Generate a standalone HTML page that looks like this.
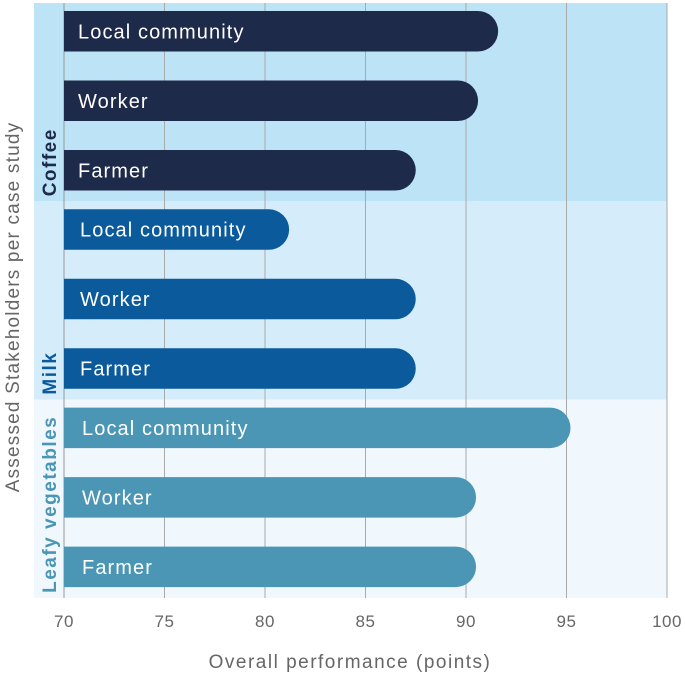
<!DOCTYPE html>
<html><head><meta charset="utf-8"><style>
body{margin:0;background:#fff;}
svg{display:block;font-family:"Liberation Sans",sans-serif;}
</style></head><body>
<svg id="chart" width="685" height="679"></svg>
<script>
const groups = ["Coffee","Milk","Leafy vegetables"];
const categories = ["Local community","Worker","Farmer"];
const coffeeValues = [91.6, 90.6, 87.5];
const milkValues = [81.2, 87.5, 87.5];
const leafyValues = [95.2, 90.5, 90.5];
const xTicks = [70,75,80,85,90,95,100];

const svg = document.getElementById('chart');
const NS = 'http://www.w3.org/2000/svg';
const x0 = 64, x1 = 667, vMin = 70, vMax = 100;
const xs = v => x0 + (v - vMin) / (vMax - vMin) * (x1 - x0);
const bandTop = 3, bandH = 198.3;
const bandColors = ["#bde3f7","#d5ecfa","#f0f8fd"];
const barColors = ["#1e2a4a","#0a5a9c","#4a96b4"];
const labelColors = ["#1e2a4a","#0a5a9c","#4a96b4"];
const allValues = [coffeeValues, milkValues, leafyValues];
function el(tag, attrs, parent){const e=document.createElementNS(NS,tag);for(const k in attrs)e.setAttribute(k,attrs[k]);(parent||svg).appendChild(e);return e;}

groups.forEach((g,gi)=>{
  const top = bandTop + gi*bandH;
  const b = el('rect',{x:34,y:top,width:x1-34,height:bandH,fill:bandColors[gi]});
  
  
});
xTicks.forEach(t=>{
  const l = el('line',{x1:xs(t),x2:xs(t),y1:3,y2:598,stroke:t===70?'#999':'#aaa','stroke-width':1});
  
  
  const tx = el('text',{x:xs(t),y:627,'text-anchor':'middle','font-size':17,fill:'#666','letter-spacing':0.5});
  tx.textContent = t;
  
  
});
groups.forEach((g,gi)=>{
  const top = bandTop + gi*bandH;
  allValues[gi].forEach((v,ci)=>{
    const y = top + 8 + ci*69.5, h = 40.5, w = xs(v)-x0, r = h/2;
    const p = el('path',{d:`M${x0},${y}H${x0+w-r}A${r},${r} 0 0 1 ${x0+w-r},${y+h}H${x0}Z`,fill:barColors[gi]});
    
    
    const t = el('text',{x:x0+14+gi*2,y:y+h/2+7,'font-size':20,fill:'#fff','letter-spacing':1.1});
    t.textContent = categories[ci];
    
    
  });
  const gl = el('text',{transform:`translate(56,${top+bandH-5}) rotate(-90)`,'font-size':19,'font-weight':'bold',fill:labelColors[gi],'letter-spacing':1.5});
  gl.textContent = g;
  
  
});
const yt = el('text',{transform:'translate(19,307) rotate(-90)','text-anchor':'middle','font-size':19,fill:'#666','letter-spacing':1.2});
yt.textContent = 'Assessed Stakeholders per case study';


const xt = el('text',{x:350,y:668,'text-anchor':'middle','font-size':19,fill:'#666','letter-spacing':1.5});
xt.textContent = 'Overall performance (points)';


</script>
</body></html>
